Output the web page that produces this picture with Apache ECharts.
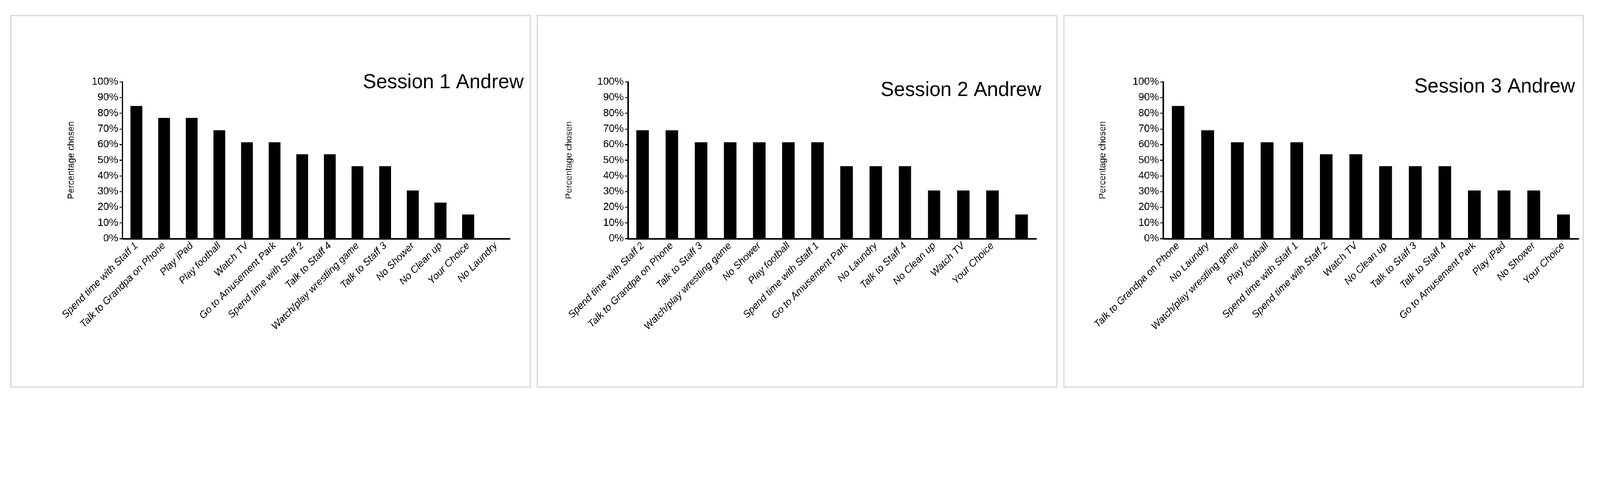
<!DOCTYPE html>
<html>
<head>
<meta charset="utf-8">
<title>Sessions Andrew</title>
<script src="https://cdn.jsdelivr.net/npm/echarts@6/dist/echarts.min.js"></script>
<style>
  html, body { margin:0; padding:0; background:#fff; overflow:hidden; }
  #stage { position:absolute; left:0; top:0; width:5133px; height:1281px; transform-origin:0 0; background:#fff; }
  .panel { position:absolute; top:48px; width:1670px; height:1197px; border:4px solid #d9d9d9; box-sizing:border-box; background:#fff; }
</style>
</head>
<body>
<div id="stage">
  <div class="panel" id="p1" style="left:33px"></div>
  <div class="panel" id="p2" style="left:1722px"></div>
  <div class="panel" id="p3" style="left:3411px"></div>
</div>
<script>
// fit the 5133px wide stage into whatever the viewport really is
var sc = window.innerWidth / 5133;
document.getElementById('stage').style.transform = 'scale(' + sc + ')';

// counts out of 13 trials
var trials = 13;
var cats1 = ['Spend time with Staff 1','Talk to Grandpa on Phone','Play iPad','Play football','Watch TV','Go to Amusement Park','Spend time with Staff 2','Talk to Staff 4','Watch/play wrestling game','Talk to Staff 3','No Shower','No Clean up','Your Choice','No Laundry'];
var counts1 = [11,10,10,9,8,8,7,7,6,6,4,3,2,0];
var cats2 = ['Spend time with Staff 2','Talk to Grandpa on Phone','Talk to Staff 3','Watch/play wrestling game','No Shower','Play football','Spend time with Staff 1','Go to Amusement Park','No Laundry','Talk to Staff 4','No Clean up','Watch TV','Your Choice',''];
var counts2 = [9,9,8,8,8,8,8,6,6,6,4,4,4,2];
var cats3 = ['Talk to Grandpa on Phone','No Laundry','Watch/play wrestling game','Play football','Spend time with Staff 1','Spend time with Staff 2','Watch TV','No Clean up','Talk to Staff 3','Talk to Staff 4','Go to Amusement Park','Play iPad','No Shower','Your Choice'];
var counts3 = [11,9,8,8,8,7,7,6,6,6,4,4,4,2];
var titles = ['Session 1 Andrew','Session 2 Andrew','Session 3 Andrew'];

var FONT = '"Liberation Sans Narrow", "Liberation Sans", sans-serif';

function makeChart(id, title, cats, counts, lay) {
  var chart = echarts.init(document.getElementById(id), null, {renderer:'canvas', width:1662, height:1189});
  chart.setOption({
    animation:false,
    title:{ text:title, right:lay.titleRight, top:lay.titleTop,
      textStyle:{ fontFamily:FONT, fontSize:64, fontWeight:'normal', color:'#000' } },
    grid:{ left:lay.left, right:lay.right, top:211, bottom:475 },
    xAxis:{
      type:'category', data:cats,
      axisLine:{ lineStyle:{ color:'#000', width:5 } },
      axisTick:{ inside:lay.tickInside, length:12, lineStyle:{ color:'#000', width:3 } },
      axisLabel:{ rotate:45, interval:0, fontStyle:'italic', fontFamily:FONT, fontSize:32, color:'#000', margin:18 }
    },
    yAxis:{
      type:'value', min:0, max:1, interval:0.1,
      name:'Percentage chosen', nameLocation:'middle', nameGap:lay.nameGap,
      nameTextStyle:{ fontFamily:'"Liberation Sans", sans-serif', fontSize:29, color:'#000' },
      splitLine:{ show:false },
      axisLine:{ show:true, lineStyle:{ color:'#000', width:4 } },
      axisTick:{ show:true, length:10, lineStyle:{ color:'#000', width:3 } },
      axisLabel:{ fontFamily:FONT, fontSize:33, color:'#000', margin:14,
        formatter:function(v){ return Math.round(v*100) + '%'; } }
    },
    series:[{ type:'bar', barWidth:'43%', itemStyle:{ color:'#000' },
      data:counts.map(function(c){ return c / trials; }) }]
  });
}

makeChart('p1', titles[0], cats1, counts1, {left:356, right:64, titleRight:14, titleTop:176, nameGap:150, tickInside:true});
makeChart('p2', titles[1], cats2, counts2, {left:289, right:64, titleRight:42, titleTop:201, nameGap:175, tickInside:true});
makeChart('p3', titles[2], cats3, counts3, {left:317, right:14, titleRight:19, titleTop:190, nameGap:180, tickInside:false});
</script>
</body>
</html>
